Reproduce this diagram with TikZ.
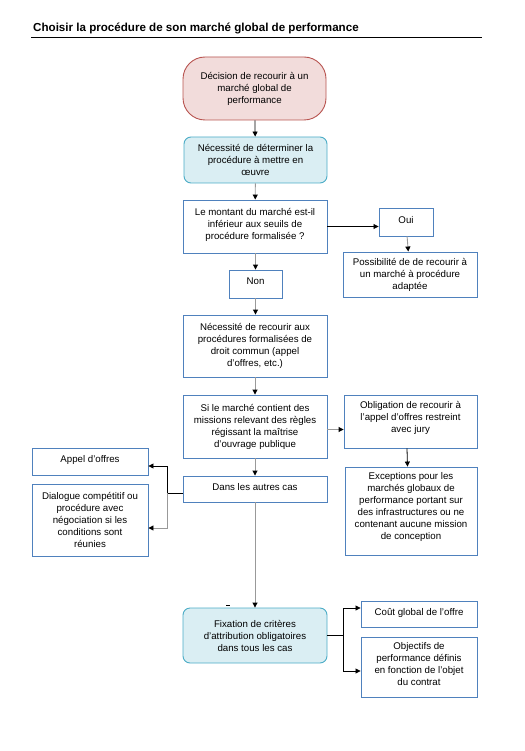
\documentclass[tikz,border=0pt]{standalone}
\usepackage{fontspec}
\setmainfont{Liberation Sans}
\usetikzlibrary{arrows.meta,calc}
\definecolor{pinkfill}{HTML}{F2DCDB}
\definecolor{pinkdraw}{HTML}{B85450}
\definecolor{bluefill}{HTML}{DAEEF3}
\definecolor{bluedraw}{HTML}{4BACC6}
\definecolor{boxdraw}{HTML}{4F81BD}
\definecolor{linegray}{HTML}{999999}
\tikzset{
  base/.style={draw, line width=0.9pt, align=center, inner sep=2pt,
    font=\fontsize{9.7}{12}\selectfont},
  box/.style={base, draw=boxdraw, fill=white},
  startbox/.style={base, draw=pinkdraw, fill=pinkfill, rounded corners=22pt},
  procbox/.style={base, draw=bluedraw, fill=bluefill, rounded corners=7pt},
  topish/.style={text depth=5pt},
  blk/.style={draw=black, line width=0.8pt, -{Triangle[length=5pt,width=5pt]}},
  gry/.style={draw=linegray, line width=0.9pt, -{Triangle[length=5pt,width=5pt,color=black]}},
  blkline/.style={draw=black, line width=0.8pt},
  gryline/.style={draw=linegray, line width=0.9pt},
}
\begin{document}
\begin{tikzpicture}[x=1pt,y=-1pt]
\useasboundingbox (0,0) rectangle (524,751);
% title
\node[anchor=base west, inner sep=0pt, font=\bfseries\fontsize{11.6}{13}\selectfont] (title) at (33,32) {Choisir la procédure de son marché global de performance};
\coordinate (ulA) at (31,37.5);
\coordinate (ulB) at (482,37.5);
\draw[line width=0.9pt] (ulA) -- (ulB);

% nodes
\node[startbox, minimum width=143pt, minimum height=63pt] (n1) at (254.5,88.5) {Décision de recourir à un\\marché global de\\performance};
\node[procbox, minimum width=143pt, minimum height=46pt] (n2) at (255.5,160) {Nécessité de déterminer la\\procédure à mettre en\\œuvre};
\node[box, text depth=6pt, minimum width=144pt, minimum height=53pt] (n3) at (255,226.5) {Le montant du marché est-il\\inférieur aux seuils de\\procédure formalisée ?};
\node[box, topish, minimum width=54pt, minimum height=28pt] (oui) at (406,222) {Oui};
\node[box, minimum width=134pt, minimum height=45pt] (poss) at (410,274.5) {Possibilité de de recourir à\\un marché à procédure\\adaptée};
\node[box, topish, minimum width=53pt, minimum height=28pt] (non) at (255.5,284) {Non};
\node[box, minimum width=144pt, minimum height=62pt] (n4) at (255,346) {Nécessité de recourir aux\\procédures formalisées de\\droit commun (appel\\d’offres, etc.)};
\node[box, minimum width=144pt, minimum height=63pt] (n5) at (255,426.5) {Si le marché contient des\\missions relevant des règles\\régissant la maîtrise\\d’ouvrage publique};
\node[box, text depth=9pt, minimum width=133pt, minimum height=53pt] (obl) at (410.5,421.5) {Obligation de recourir à\\l’appel d’offres restreint\\avec jury};
\node[box, text depth=10pt, minimum width=132pt, minimum height=88pt] (exc) at (411,511) {Exceptions pour les\\marchés globaux de\\performance portant sur\\des infrastructures ou ne\\contenant aucune mission\\de conception};
\node[box, topish, minimum width=144pt, minimum height=26pt] (dans) at (255,489) {Dans les autres cas};
\node[box, topish, minimum width=116pt, minimum height=27pt] (appel) at (90,461.5) {Appel d’offres};
\node[box, minimum width=116pt, minimum height=72pt] (dial) at (90,520) {Dialogue compétitif ou\\procédure avec\\négociation si les\\conditions sont\\réunies};
\node[procbox, minimum width=144pt, minimum height=55pt] (fix) at (255,635.5) {Fixation de critères\\d’attribution obligatoires\\dans tous les cas};
\node[box, topish, minimum width=116pt, minimum height=26pt] (cout) at (419,614) {Coût global de l’offre};
\node[box, text depth=6pt, minimum width=116pt, minimum height=60pt] (obj) at (419,667) {Objectifs de\\performance définis\\en fonction de l’objet\\du contrat};

% connectors
\draw[blk] (n1) -- (n2);
\draw[gry] (n2) -- (n3);
\draw[blk] (n3.east) -- (n3.east -| oui.west);
\draw[gry] (oui) -- (poss);
\draw[gry] (n3.south -| non.north) -- (non);
\draw[gry] (non) -- (n4.north -| non.south);
\draw[gry] (n4) -- (n5);
\draw[gry] ([yshift=-3pt]n5.east) -- ([yshift=-3pt]n5.east -| obl.west);
\draw[blk] ([xshift=-3.5pt]obl.south) -- ([xshift=-3.5pt]exc.north);
\draw[gry] (n5) -- (dans);
% left branch
\coordinate (jL) at (167,493);
\draw[blkline] (dans.west |- jL) -- (jL);
\draw[blk] (jL) |- ([yshift=-4.5pt]appel.east);
\draw[gry] (jL) |- ([yshift=-8pt]dial.east);
% down to fixation
\draw[gry] (dans) -- (fix);
\coordinate (dashA) at (226,605);
\coordinate (dashB) at (229.5,605);
\draw[line width=0.6pt] (dashA) -- (dashB);
% right branch
\coordinate (jR) at (343,635.5);
\draw[blkline] (fix.east) -- (jR);
\draw[blk] (jR) |- ([yshift=6pt]cout.west);
\draw[blk] (jR) |- ([yshift=-4pt]obj.west);
\end{tikzpicture}
\end{document}
